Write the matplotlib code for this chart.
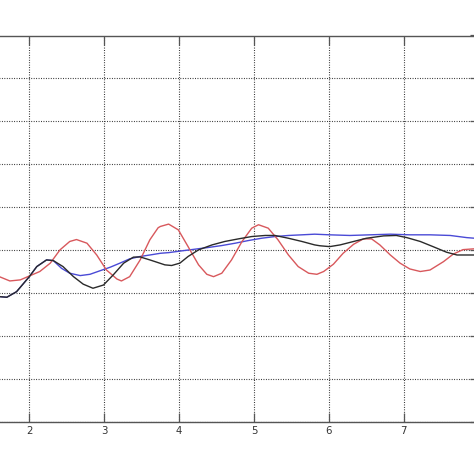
#import packages
from matplotlib import pyplot as plt
import numpy as np

# data (x in time units, y in response units)
red_x = [1.60, 1.74, 1.88, 2.00, 2.14, 2.28, 2.41, 2.54, 2.63, 2.77, 2.90, 3.03, 3.17, 3.23,
         3.34, 3.48, 3.61, 3.72, 3.75, 3.86, 3.99, 4.12, 4.26, 4.37, 4.46, 4.57, 4.70, 4.84,
         4.97, 5.06, 5.19, 5.32, 5.46, 5.59, 5.73, 5.84, 5.93, 6.06, 6.19, 6.33, 6.46, 6.57,
         6.68, 6.82, 6.95, 7.08, 7.22, 7.35, 7.53, 7.66, 7.79, 7.95]
red_y = [0.676, 0.656, 0.661, 0.679, 0.700, 0.739, 0.801, 0.840, 0.849, 0.832, 0.777, 0.707,
         0.665, 0.656, 0.676, 0.754, 0.848, 0.904, 0.910, 0.921, 0.894, 0.816, 0.731, 0.687,
         0.676, 0.692, 0.754, 0.840, 0.902, 0.918, 0.902, 0.848, 0.777, 0.723, 0.692, 0.687,
         0.700, 0.734, 0.785, 0.827, 0.852, 0.852, 0.824, 0.777, 0.739, 0.712, 0.700, 0.707,
         0.746, 0.781, 0.802, 0.806]

black_x = [1.60, 1.70, 1.83, 2.00, 2.10, 2.23, 2.32, 2.45, 2.59, 2.72, 2.85, 2.99, 3.12, 3.26,
           3.39, 3.48, 3.61, 3.68, 3.81, 3.90, 4.01, 4.12, 4.26, 4.44, 4.61, 4.79, 4.97, 5.15,
           5.28, 5.46, 5.64, 5.81, 5.88, 6.01, 6.15, 6.33, 6.50, 6.73, 6.90, 7.04, 7.22, 7.39,
           7.57, 7.71, 7.95]
black_y = [0.583, 0.580, 0.606, 0.676, 0.723, 0.754, 0.751, 0.723, 0.676, 0.641, 0.622, 0.637,
           0.684, 0.739, 0.767, 0.768, 0.754, 0.746, 0.731, 0.728, 0.739, 0.770, 0.801, 0.824,
           0.840, 0.852, 0.863, 0.868, 0.868, 0.855, 0.840, 0.824, 0.820, 0.816, 0.824, 0.840,
           0.855, 0.866, 0.868, 0.858, 0.840, 0.816, 0.790, 0.777, 0.777]

blue_x = [1.60, 1.70, 1.83, 2.00, 2.10, 2.23, 2.32, 2.43, 2.54, 2.68, 2.81, 2.94, 3.08, 3.21,
          3.34, 3.48, 3.61, 3.75, 3.86, 4.03, 4.21, 4.39, 4.57, 4.75, 4.92, 5.10, 5.28, 5.46,
          5.64, 5.81, 6.01, 6.28, 6.55, 6.82, 7.08, 7.35, 7.62, 7.84, 7.95]
blue_y = [0.583, 0.580, 0.606, 0.676, 0.723, 0.754, 0.751, 0.715, 0.692, 0.681, 0.687, 0.703,
          0.720, 0.739, 0.759, 0.770, 0.777, 0.785, 0.788, 0.796, 0.804, 0.812, 0.821, 0.832,
          0.844, 0.855, 0.863, 0.868, 0.871, 0.874, 0.871, 0.868, 0.871, 0.874, 0.871, 0.871,
          0.868, 0.858, 0.855]

x_ticks = [1, 2, 3, 4, 5, 6, 7, 8]
x_tick_labels = ['', '2', '3', '4', '5', '6', '7', '']  # 1 and 8 sit outside the crop
y_ticks = np.round(np.arange(0, 1.81, 0.2), 1)

#figure in pixels, axes runs past left and right edges (cropped look)
W, H = 474, 474
fig = plt.figure(figsize=(W / 100, H / 100), dpi=100)
ax_l, ax_r = -45.6, 478.7
ax_t, ax_b = 35.5, 421.7
ax = fig.add_axes([ax_l / W, (H - ax_b) / H, (ax_r - ax_l) / W, (ax_b - ax_t) / H])

ax.plot(blue_x, blue_y, color='#4a4ad6', lw=1.0)
ax.plot(red_x, red_y, color='#d8585c', lw=1.0)
ax.plot(black_x, black_y, color='#2a2a2a', lw=1.0)

ax.set_xlim(1, 8)
ax.set_ylim(0, 1.8)
ax.set_xticks(x_ticks)
ax.set_xticklabels(x_tick_labels)
ax.set_yticks(y_ticks)
ax.set_yticklabels([])

#matlab style dotted grid
ax.grid(True, color='#222222', linestyle=(0, (0.8, 1.4)), lw=0.8)
for s in ax.spines.values():
    s.set_color('#555555')
    s.set_linewidth(1.0)
ax.tick_params(direction='in', length=6.5, width=0.9, color='#555555',
               top=True, right=True, labelsize=7.3, labelcolor='#333333', pad=3)

fig.savefig('out.png', dpi=100)
